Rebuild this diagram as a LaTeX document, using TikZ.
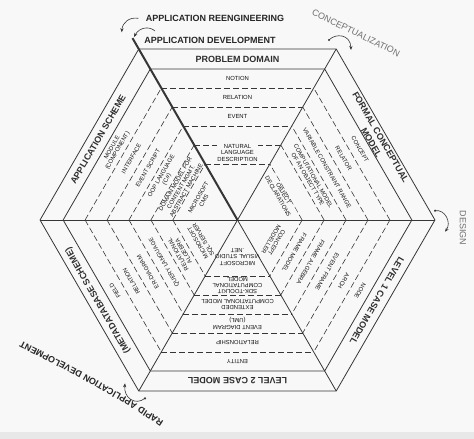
\documentclass[tikz,border=0pt]{standalone}
\usepackage{fontspec}
\setmainfont{Liberation Sans}
\usetikzlibrary{arrows.meta}
\definecolor{ln}{HTML}{363636}
\definecolor{bg}{HTML}{F8F8F8}
\definecolor{lbl}{HTML}{707070}
\begin{document}
\begin{tikzpicture}[x=1pt,y=1pt,
  solidln/.style={draw=ln, line width=0.8pt, line join=miter},
  dashln/.style={draw=ln, line width=0.6pt, dash pattern=on 6pt off 3pt},
  item/.style={font=\fontsize{5.9}{6.3}\selectfont, align=center, inner sep=0.4pt, text=black!92},
  bandlbl/.style={font=\fontsize{9}{10.5}\selectfont\bfseries, align=center, inner sep=0pt, text=black!82},
  outerlbl/.style={font=\fontsize{9}{10}\selectfont\bfseries, inner sep=0pt, text=black!85},
  graylbl/.style={font=\fontsize{9}{10}\selectfont, inner sep=0pt, text=lbl},
  curvearrow/.style={draw=ln, line width=0.6pt, -{Stealth[length=4pt,width=3.2pt]}},
  startdot/.style={fill=ln}
]
\fill[bg] (-237.5,-219) rectangle (236.5,220);
\useasboundingbox (-237.5,-219) rectangle (236.5,220);
\fill[black!9] (-237.5,-219) rectangle (236.5,-212);

% concentric hexagons
\draw[solidln] (0:197.46) -- (60:197.46) -- (120:197.46) -- (180:197.46) -- (240:197.46) -- (300:197.46) -- cycle;
\draw[solidln] (0:174.36) -- (60:174.36) -- (120:174.36) -- (180:174.36) -- (240:174.36) -- (300:174.36) -- cycle;

% dashed layers
\foreach \a in {132,113,94,75,56} {
  \pgfmathsetmacro\r{\a/0.866025}
  \draw[dashln] (0:\r) -- (60:\r);
  \draw[dashln] (0:\r) -- (300:\r);
  \draw[dashln] (180:\r) -- (120:\r);
  \draw[dashln] (180:\r) -- (240:\r);
  \draw[dashln] (120:\r) -- (60:\r);
  \draw[dashln] (240:\r) -- (300:\r);
}

% spokes
\coordinate (C) at (0,0);
\draw[solidln] (180:197.46) -- (0:197.46);
\draw[solidln] (60:197.46) -- (240:197.46);
\draw[solidln] (C) -- (300:197.46);
\draw[draw=ln, line width=2pt] (120:210) -- (C);

% band labels
\node[bandlbl] (l1) at (90:161) {PROBLEM DOMAIN};
\node[bandlbl, rotate=-60] (l2) at (30:160) {FORMAL CONCEPTUAL\\MODEL};
\node[bandlbl, rotate=-120] (l3) at (-30:161) {LEVEL 1 CASE MODEL};
\node[bandlbl, rotate=180] (l4) at (-90:161) {LEVEL 2 CASE MODEL};
\node[bandlbl, rotate=120] (l5) at (210:161) {(METADATABASE SCHEME)};
\node[bandlbl, rotate=60] (l6) at (150:161) {APPLICATION SCHEME};

% top sector
\node[item] (t1) at (90:141.5) {NOTION};
\node[item] (t2) at (90:122.5) {RELATION};
\node[item] (t3) at (90:103.5) {EVENT};
\node[item, fill=bg, inner ysep=2pt] (t4) at (90:67) {NATURAL\\LANGUAGE\\DESCRIPTION};

% upper right sector
\node[item, rotate=-60] (r1) at (30:141.5) {CONCEPT};
\node[item, rotate=-60] (r2) at (30:122.5) {RELATOR};
\node[item, rotate=-60] (r3) at (30:103.5) {VARIABLE CONSTRAINT RANGE};
\node[item, rotate=-60] (r4) at (30:84.5) {COMPUTATIONAL MODEL\\OF AN OBJECT TYPE};
\node[item, rotate=-60, fill=bg] (r5) at (30:50) {OBJECT\\DECLARATIONS};

% lower right sector
\node[item, rotate=-120] (s1) at (-30:141.5) {NODE};
\node[item, rotate=-120] (s2) at (-30:122.5) {ARCH};
\node[item, rotate=-120] (s3) at (-30:103.5) {EVENT FRAME};
\node[item, rotate=-120] (s4) at (-30:84.5) {FRAME ALGEBRA};
\node[item, rotate=-120] (s5) at (-30:65.5) {FRAME MODEL};
\node[item, rotate=-120] (s6) at (-30:42) {CONCEPT\\MODELLER};

% bottom sector
\node[item, rotate=180] (b1) at (-90:141.5) {ENTITY};
\node[item, rotate=180] (b2) at (-90:122.5) {RELATIONSHIP};
\node[item, rotate=180] (b3) at (-90:103.5) {EVENT DIAGRAM\\(UML)};
\node[item, rotate=180] (b4) at (-90:84.5) {EXTENDED\\COMPUTATIONAL MODEL};
\node[item, rotate=180] (b5) at (-90:65.5) {SDK-TOOLKIT\\COMPUTATIONAL\\MODEL};
\node[item, rotate=180] (b6) at (-90:37) {MICROSOFT\\VISUAL STUDIO\\.NET};

% lower left sector
\node[item, rotate=120] (m1) at (210:141.5) {FIELD};
\node[item, rotate=120] (m2) at (210:122.5) {RELATION};
\node[item, rotate=120] (m3) at (210:103.5) {ER-DIAGRAM};
\node[item, rotate=120] (m4) at (210:84.5) {QUERY LANGUAGE};
\node[item, rotate=120] (m5) at (210:65.5) {RELATIONAL\\ALGEBRA};
\node[item, rotate=120] (m6) at (210:42) {MICROSOFT\\SQL SERVER};

% upper left sector
\node[item, rotate=60] (a1) at (150:141.5) {MODULE\\(COMPONENT)};
\node[item, rotate=60] (a2) at (150:122.5) {INTERFACE};
\node[item, rotate=60] (a3) at (150:103.5) {EVENT SCRIPT};
\node[item, rotate=60] (a4) at (150:84.5) {OOP LANGUAGE\\(C\#)};
\node[item, rotate=60] (a5) at (150:65.5) {DOMAIN MODEL FOR\\CONTENT MGMT.\\ABSTRACT MACHINE};
\node[item, rotate=60] (a6) at (150:42) {MICROSOFT\\CMS};

% outside labels
\node[outerlbl] (reeng) at (-22.5,201.7) {APPLICATION REENGINEERING};
\node[outerlbl] (appdev) at (-27.5,180) {APPLICATION DEVELOPMENT};
\node[graylbl, rotate=-90] (design) at (225.5,-8) {DESIGN};
\node[graylbl, rotate=-26] (concept) at (118.5,187) {CONCEPTUALIZATION};
\node[outerlbl, rotate=147] (rad1) at (-87,-196.5) {RAPID};
\node[outerlbl, rotate=150] (rad2) at (-127.5,-171.7) {APPLICATION};
\node[outerlbl, rotate=153] (rad3) at (-186.6,-139.6) {DEVELOPMENT};

% curved arrows
\coordinate (ar1s) at (-99.2,201.7);
\coordinate (ar1e) at (-115.8,187.7);
\draw[curvearrow] (ar1s) .. controls (-108,203) and (-115,198) .. (ar1e);

\coordinate (ar2s) at (-82.5,189);
\coordinate (ar2e) at (-103.5,183);
\draw[curvearrow] (ar2s) .. controls (-88,194) and (-98,193) .. (ar2e);

\coordinate (ar3s) at (91.5,180);
\coordinate (ar3e) at (113.5,170);
\fill[startdot] (ar3s) circle (1.2pt);
\draw[curvearrow] (ar3s) .. controls (98,187) and (113,186) .. (ar3e);

\coordinate (ar4s) at (197.5,9.3);
\coordinate (ar4e) at (207.5,-11.7);
\fill[startdot] (ar4s) circle (1.2pt);
\draw[curvearrow] (ar4s) .. controls (208,11) and (214,-3) .. (ar4e);

\coordinate (ar5s) at (-92.5,-178.3);
\coordinate (ar5e) at (-112.5,-163.3);
\fill[startdot] (ar5s) circle (1.2pt);
\draw[curvearrow] (ar5s) .. controls (-102,-186) and (-114,-178) .. (ar5e);
\end{tikzpicture}
\end{document}
